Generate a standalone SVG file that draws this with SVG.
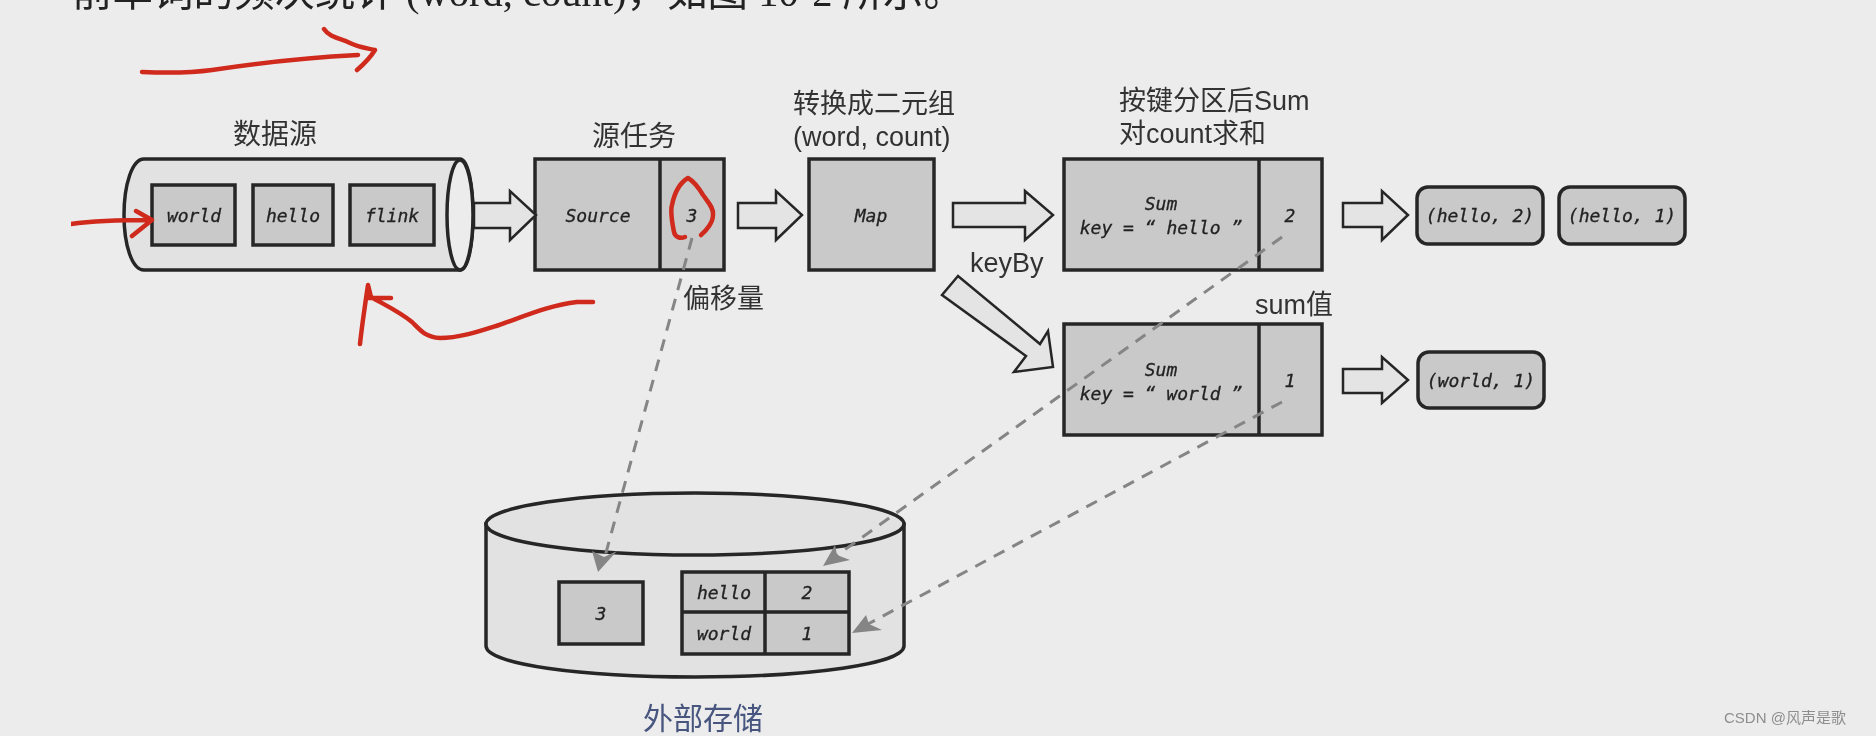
<svg xmlns="http://www.w3.org/2000/svg" width="1876" height="736" viewBox="0 0 1876 736">
<style>
.box{fill:#c9c9c9;stroke:#262626;stroke-width:3.5}
.cyl{fill:#e2e2e2;stroke:#262626;stroke-width:3.5}
.arr{fill:#e4e4e4;stroke:#262626;stroke-width:2.5;stroke-linejoin:miter}
.m{font-family:"DejaVu Sans Mono","Liberation Mono",monospace;font-style:italic;font-size:18px;fill:#222;stroke:#222;stroke-width:.3;text-anchor:middle;dominant-baseline:central}
.l{font-family:"Liberation Sans","Noto Sans CJK SC",sans-serif;font-size:27px;fill:#333}
.d{fill:none;stroke:#858585;stroke-width:3;stroke-dasharray:12 9}
.h{fill:#858585}
.r{fill:none;stroke:#cf2a1e;stroke-width:4.5;stroke-linecap:round;stroke-linejoin:round}
</style>
<defs><filter id="soft" x="0" y="0" width="100%" height="100%"><feGaussianBlur stdDeviation="0.6"/></filter></defs>
<rect width="1876" height="736" fill="#ececec"/>
<g filter="url(#soft)">
<text x="72" y="6" font-family="'Liberation Serif','Noto Sans CJK SC',serif" font-size="40.5" fill="#222">前单词的频次统计 (word, count)，如图 10-2 所示。</text>
<g id="source-cylinder">
<path class="cyl" d="M144 159H460C468 159 473 185 473 215C473 245 468 270 460 270H144C132 270 124 245 124 215C124 185 132 159 144 159Z"/>
<ellipse cx="460" cy="215" rx="13" ry="55" fill="#ececec" stroke="#262626" stroke-width="3.5"/>
<rect class="box" x="152" y="185" width="83" height="60"/><text class="m" x="194" y="215">world</text>
<rect class="box" x="253" y="185" width="80" height="60"/><text class="m" x="293" y="215">hello</text>
<rect class="box" x="350" y="185" width="84" height="60"/><text class="m" x="392" y="215">flink</text>
<text class="l" x="275" y="144" text-anchor="middle" style="font-size:28px">数据源</text>
</g>
<g id="source-task">
<rect class="box" x="535" y="159" width="189" height="111"/>
<path d="M660 159V270" stroke="#262626" stroke-width="3.5"/>
<text class="m" x="598" y="215">Source</text><text class="m" x="692" y="215">3</text>
<text class="l" x="634" y="146" text-anchor="middle" style="font-size:28px">源任务</text>
<text class="l" x="683" y="308">偏移量</text>
</g>
<g id="map">
<rect class="box" x="809" y="159" width="125" height="111"/>
<text class="m" x="871" y="215">Map</text>
<text class="l" x="793" y="113">转换成二元组</text>
<text class="l" x="793" y="146">(word, count)</text>
</g>
<g id="sum-hello">
<rect class="box" x="1064" y="159" width="258" height="111"/>
<path d="M1259 159V270" stroke="#262626" stroke-width="3.5"/>
<text class="m" x="1161" y="203">Sum</text><text class="m" x="1161" y="227">key = “ hello ”</text><text class="m" x="1290" y="215">2</text>
<text class="l" x="1119" y="110">按键分区后Sum</text>
<text class="l" x="1119" y="143">对count求和</text>
</g>
<g id="sum-world">
<rect class="box" x="1064" y="324" width="258" height="111"/>
<path d="M1259 324V435" stroke="#262626" stroke-width="3.5"/>
<text class="m" x="1161" y="369">Sum</text><text class="m" x="1161" y="393">key = “ world ”</text><text class="m" x="1290" y="380">1</text>
<text class="l" x="1255" y="314">sum值</text>
</g>
<g id="results">
<rect class="box" x="1417" y="187" width="126" height="57" rx="11"/><text class="m" x="1480" y="215">(hello, 2)</text>
<rect class="box" x="1559" y="187" width="126" height="57" rx="11"/><text class="m" x="1622" y="215">(hello, 1)</text>
<rect class="box" x="1418" y="352" width="126" height="56" rx="11"/><text class="m" x="1481" y="380">(world, 1)</text>
</g>
<g id="external-storage">
<path class="cyl" d="M486 524V646C486 664 580 677 695 677C810 677 904 664 904 646V524Z"/>
<ellipse class="cyl" cx="695" cy="524" rx="209" ry="31"/>
<rect class="box" x="559" y="582" width="84" height="62"/><text class="m" x="601" y="613">3</text>
<rect class="box" x="682" y="572" width="167" height="82"/>
<path d="M765 572V654M682 612H849" stroke="#262626" stroke-width="3.5"/>
<text class="m" x="724" y="592">hello</text><text class="m" x="807" y="592">2</text>
<text class="m" x="724" y="633">world</text><text class="m" x="807" y="633">1</text>
<text x="703" y="729" text-anchor="middle" font-family="'Liberation Sans','Noto Sans CJK SC',sans-serif" font-size="30" fill="#46557f">外部存储</text>
</g>
<g id="connectors">
<path class="arr" d="M474 203H510V191L536 215L510 240V228H474Z"/>
<path class="arr" d="M738 203H776V191L802 215L776 240V228H738Z"/>
<path class="arr" d="M953 203H1025V191L1053 215L1025 240V227H953Z"/>
<path class="arr" d="M1343 203H1382V191L1408 215L1382 240V227H1343Z"/>
<path class="arr" d="M1343 369H1382V357L1408 380L1382 403V393H1343Z"/>
<path class="arr" d="M958 276L942 295L1026 356L1014 372L1053 367L1048 331L1040 344Z"/>
<text class="l" x="970" y="272">keyBy</text>
<path class="d" d="M692 238L604 560"/>
<path class="d" d="M1282 237L836 556"/>
<path class="d" d="M1282 402L868 624"/>
<path class="h" d="M598 572L592 551L604 557L617 551Z"/>
<path class="h" d="M823 566L835 545L837 555L850 560Z"/>
<path class="h" d="M852 633L866 615L869 624L882 630Z"/>
</g>
<g id="annotations">
<path class="r" d="M142 72C165 73 190 73 212 70C245 65 300 58 358 55M324 29C330 38 340 38 350 43C358 47 366 48 375 50C370 58 364 64 357 70"/>
<path class="r" d="M71 224C92 221 115 220 152 220M136 211L152 220L132 236"/>
<path class="r" d="M360 344C362 325 365 305 368 285L371 297C385 305 400 312 412 322C420 330 425 337 440 338C460 338 480 331 499 325C525 316 550 305 577 302L593 302M366 298H391"/>
<path class="r" d="M685 237C680 239 675 237 674 232C672 222 670 212 672 205C674 195 678 184 688 178C695 182 700 190 703 195C708 202 714 208 713 215C713 222 707 230 701 235"/>
</g>
<text x="1724" y="723" font-family="'Liberation Sans','Noto Sans CJK SC',sans-serif" font-size="15" fill="#8e8e8e">CSDN @风声是歌</text>
</g>
</svg>
